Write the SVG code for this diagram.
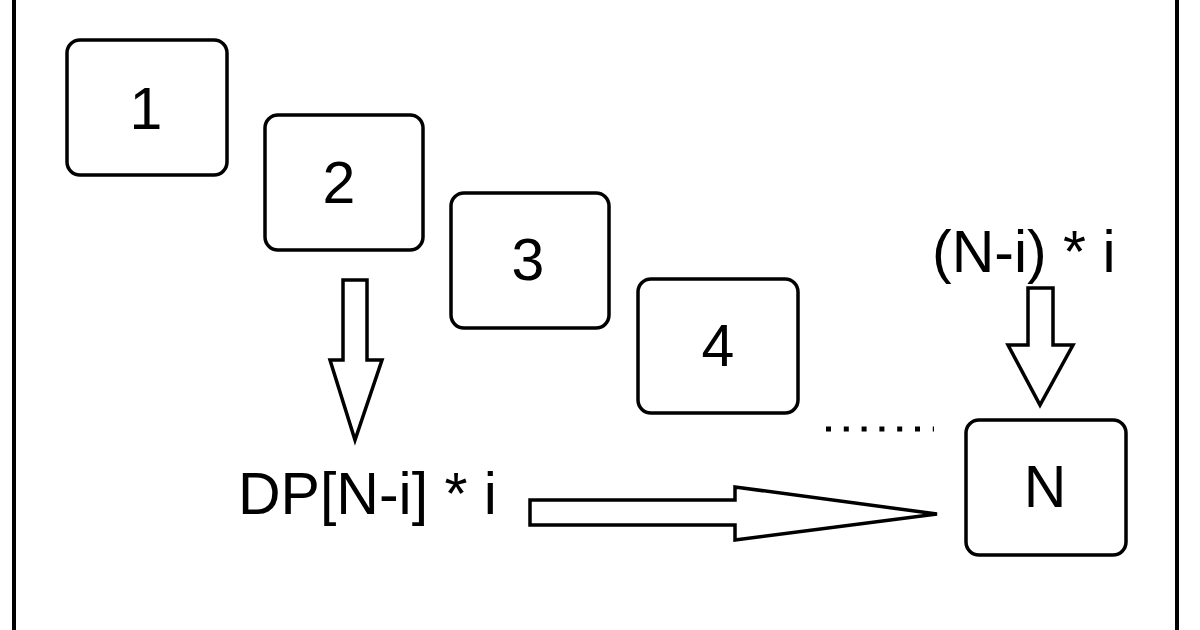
<svg xmlns="http://www.w3.org/2000/svg" width="1200" height="630" viewBox="0 0 1200 630">
<style>
.box{fill:#fff;stroke:#000;stroke-width:3.5}
.t{font-family:"Liberation Sans",Arial,sans-serif;font-size:59px;fill:#000}
.ar{fill:#fff;stroke:#000;stroke-width:3.5;stroke-linejoin:miter}
</style>
<rect width="1200" height="630" fill="#fff"/>
<line x1="14" y1="0" x2="14" y2="630" stroke="#000" stroke-width="4"/>
<line x1="1177" y1="0" x2="1177" y2="630" stroke="#000" stroke-width="4"/>
<g id="n1"><rect class="box" x="67" y="40" width="160" height="135" rx="13"/><text class="t" x="146" y="129" text-anchor="middle">1</text></g>
<g id="n2"><rect class="box" x="265" y="115" width="158" height="135" rx="13"/><text class="t" x="339" y="203" text-anchor="middle">2</text></g>
<g id="n3"><rect class="box" x="451" y="193" width="158" height="135" rx="13"/><text class="t" x="528" y="280" text-anchor="middle">3</text></g>
<g id="n4"><rect class="box" x="638" y="279" width="160" height="134" rx="13"/><text class="t" x="718" y="366" text-anchor="middle">4</text></g>
<g id="nN"><rect class="box" x="966" y="420" width="160" height="135" rx="13"/><text class="t" x="1045" y="507" text-anchor="middle">N</text></g>
<text class="t" x="238" y="514">DP[N-i] * i</text>
<text class="t" x="932" y="272">(N-i) * i</text>
<line x1="826" y1="429" x2="934" y2="429" stroke="#000" stroke-width="5" stroke-dasharray="5 12.8"/>
<g id="connectors">
<polygon class="ar" points="343,280 367,280 367,360 382,360 355,440 330,360 343,360"/>
<polygon class="ar" points="1028,288 1053,288 1053,345 1073,345 1040,405 1008,345 1028,345"/>
<polygon class="ar" points="530,500 735,500 735,487 937,514 735,540 735,525 530,525"/>
</g>
</svg>
